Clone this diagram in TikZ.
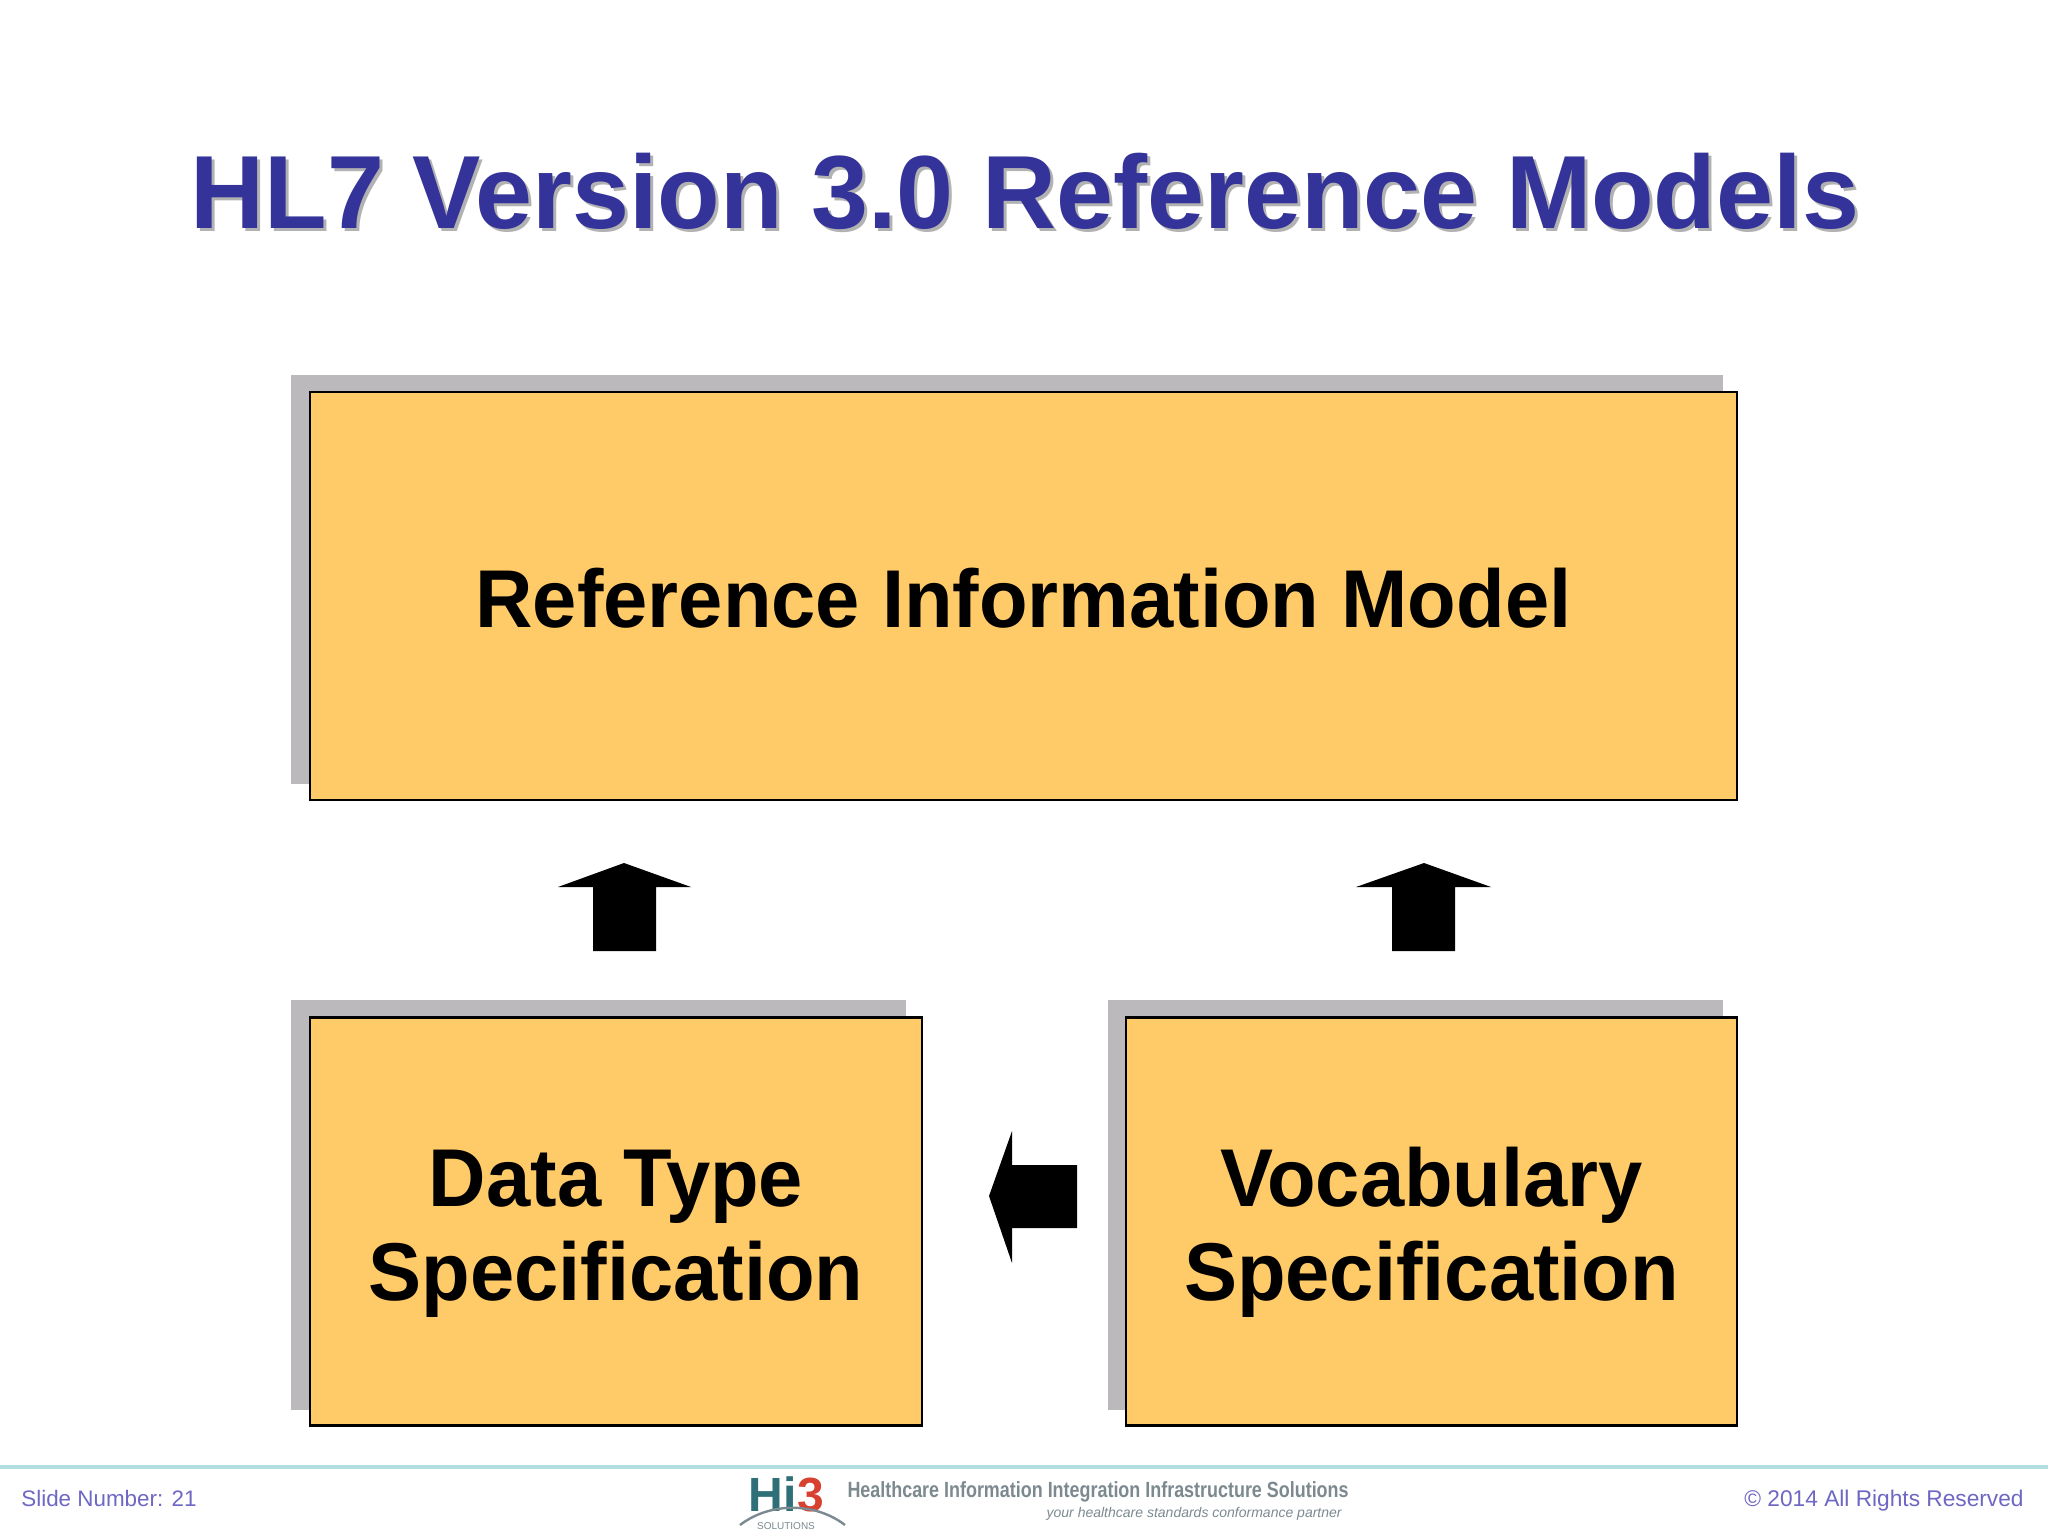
\documentclass[tikz,border=0pt]{standalone}
\usepackage{graphicx}
\usepackage{fontspec}
\setmainfont{Liberation Sans}
\definecolor{titleblue}{HTML}{333399}
\definecolor{boxfill}{HTML}{FFCB69}
\definecolor{shadowgray}{HTML}{BBB9BC}
\definecolor{footline}{HTML}{B2DEE0}
\definecolor{footpurple}{HTML}{6F67C4}
\definecolor{logoteal}{HTML}{2F6F78}
\definecolor{logored}{HTML}{D8402F}
\definecolor{logogray}{HTML}{7C8A90}
\newcommand{\narrowbox}[1]{\scalebox{0.97}[1]{#1}}
\newcommand{\titlestring}{\scalebox{0.985}[1]{HL7 Version 3.0 Reference Models}}
\tikzset{
  x=0.5pt,y=-0.5pt,
  modelbox/.style={draw=black,line width=1.1pt,fill=boxfill,inner sep=0pt,align=center,
    font=\fontsize{41}{47.3}\selectfont\bfseries,text=black},
  shadowbox/.style={fill=shadowgray,draw=none},
  blockarrow/.style={fill=black,draw=none},
  titletext/.style={font=\fontsize{52}{60}\selectfont\bfseries,anchor=base,inner sep=0pt},
  foottext/.style={font=\fontsize{11.2}{14}\selectfont,text=footpurple,anchor=base,inner sep=0pt},
}
\begin{document}
\begin{tikzpicture}
\useasboundingbox (0,0) rectangle (2048,1536);
\fill[white] (0,0) rectangle (2048,1536);
% title
\node[titletext,text=black!30!white] (titleshadow) at (1028,231) {\titlestring};
\node[titletext,text=titleblue] (title) at (1025,228) {\titlestring};
% shadows
\fill[shadowbox] (291,375) rectangle (1723,784);
\fill[shadowbox] (291,1000) rectangle (906,1410);
\fill[shadowbox] (1107.5,1000) rectangle (1723,1410);
% boxes
\node[modelbox,minimum width=713.5pt,minimum height=204pt] (rim) at (1023.5,596) {\raisebox{-15.5pt}[0pt][0pt]{\narrowbox{Reference Information Model}}};
\node[modelbox,minimum width=306pt,minimum height=204pt] (dt) at (616,1221.5) {\raisebox{-12.8pt}[0pt][0pt]{\begin{tabular}{@{}c@{}}\narrowbox{Data Type}\\\narrowbox{Specification}\end{tabular}}};
\node[modelbox,minimum width=305.5pt,minimum height=204pt] (vocab) at (1431.5,1221.5) {\raisebox{-12.8pt}[0pt][0pt]{\begin{tabular}{@{}c@{}}\narrowbox{Vocabulary}\\\narrowbox{Specification}\end{tabular}}};
% block arrows
\fill[blockarrow] (593,951) -- (593,887) -- (558,887) -- (624,863) -- (691,887) -- (656,887) -- (656,951) -- cycle;
\fill[blockarrow] (1392,951) -- (1392,887) -- (1356,887) -- (1424,863) -- (1491,887) -- (1455,887) -- (1455,951) -- cycle;
\fill[blockarrow] (1077,1165) -- (1012,1165) -- (1012,1131) -- (989,1196) -- (1012,1263) -- (1012,1228) -- (1077,1228) -- cycle;
% footer
\draw[footline,line width=2pt] (0,1467) -- (2048,1467);
\node[foottext,anchor=base west] (slidenum) at (21,1506) {Slide Number: 21};
\node[foottext,anchor=base east,font=\fontsize{11.35}{14}\selectfont] (copyright) at (2024,1506) {© 2014 All Rights Reserved};
% logo
\node[anchor=base east,inner sep=0pt,font=\fontsize{24}{24}\selectfont\bfseries,text=logoteal] (hi) at (797,1511) {Hi};
\node[anchor=base west,inner sep=0pt,font=\fontsize{24}{24}\selectfont\bfseries,text=logored] (three) at (797,1511) {3};
\draw[logogray,line width=1.2pt] (740,1525) .. controls (770,1502) and (815,1502) .. (845,1525);
\node[anchor=base,inner sep=0pt,font=\fontsize{5}{6}\selectfont,text=logogray] (sol) at (786,1529) {SOLUTIONS};
\node[anchor=base east,inner sep=0pt,font=\fontsize{11}{12}\selectfont\bfseries,text=logogray] (tag1) at (1349,1497) {\scalebox{0.815}[1]{Healthcare Information Integration Infrastructure Solutions}};
\node[anchor=base east,inner sep=0pt,font=\fontsize{7}{8}\selectfont\itshape,text=logogray] (tag2) at (1342,1517) {your healthcare standards conformance partner};
\end{tikzpicture}
\end{document}
